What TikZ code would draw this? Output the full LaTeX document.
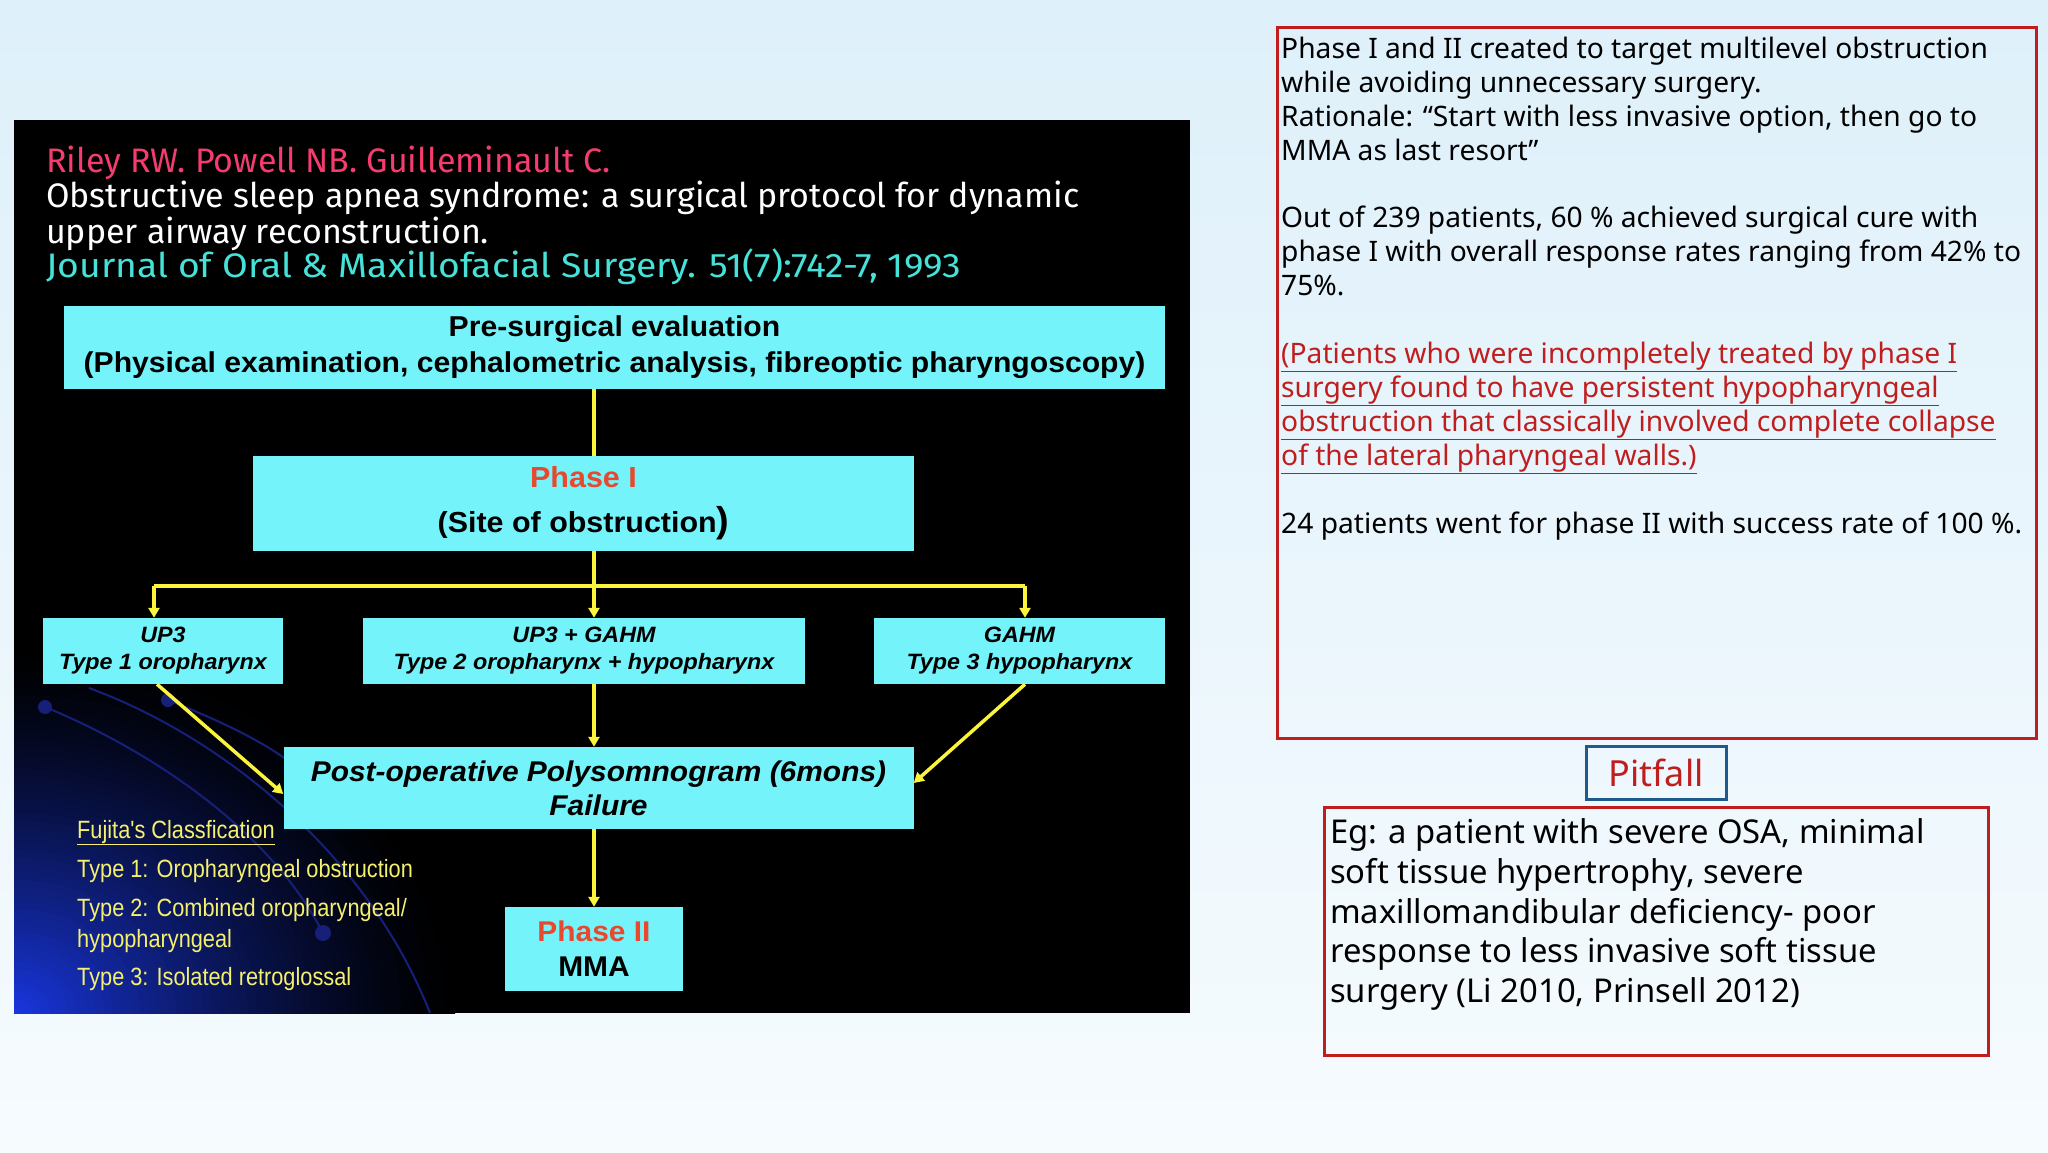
\documentclass[tikz,border=0pt]{standalone}
\usepackage{fontspec}
\setmainfont{Noto Sans}
\newfontfamily\panelsans[FakeStretch=1.05]{Liberation Sans}
\newfontfamily\fujsans[FakeStretch=0.87]{Liberation Sans}
\newfontfamily\titlesans{Fira Sans}
\newfontfamily\titlewide[FakeStretch=1.097]{Fira Sans}
\usetikzlibrary{arrows.meta}
\definecolor{bgtop}{RGB}{222,240,250}
\definecolor{bgbot}{RGB}{246,251,254}
\definecolor{boxcyan}{RGB}{116,244,250}
\definecolor{ylw}{RGB}{250,245,60}
\definecolor{phasered}{RGB}{232,72,46}
\definecolor{rileypink}{RGB}{245,60,110}
\definecolor{journalcyan}{RGB}{70,225,215}
\definecolor{fujy}{RGB}{245,240,110}
\definecolor{boxred}{RGB}{192,30,30}
\definecolor{pitblue}{RGB}{30,90,140}
\definecolor{glowblue}{RGB}{25,55,225}
\definecolor{arcblue}{RGB}{22,32,120}
\tikzset{
  cbox/.style={fill=boxcyan, draw=none, inner sep=0pt, align=center, text=black},
  yline/.style={draw=ylw, line width=3.5pt},
  yarrow/.style={draw=ylw, line width=3.5pt, -{Triangle[length=10pt,width=11pt]}},
  ttl/.style={anchor=base west, inner sep=0pt, font=\titlesans\fontsize{34}{36}\selectfont},
  fuj/.style={anchor=base west, inner sep=0pt, text=fujy, font=\fujsans\fontsize{25}{30}\selectfont},
  rtext/.style={anchor=base west, inner sep=0pt, font=\fontsize{28.2}{34}\selectfont},
  etext/.style={anchor=base west, inner sep=0pt, font=\fontsize{32.8}{39}\selectfont},
  deco/.style={draw=arcblue, line width=2pt},
  blob/.style={fill=arcblue},
}
\newcommand\redul[1]{\textcolor{boxred}{\underline{#1}}}
\begin{document}
\begin{tikzpicture}[x=1pt,y=-1pt]
% background
\shade[top color=bgtop, bottom color=bgbot] (0,0) rectangle (2048,1152);
\useasboundingbox (0,0) rectangle (2048,1152);
% black panel
\fill[black] (14,120) rectangle (1190,1013);
\begin{scope}
  \clip (14,120) rectangle (1190,1013);
  \foreach \i [evaluate=\i as \p using {100*(\i/50)^1.4}, evaluate=\i as \f using {1-\i/50}] in {1,...,50}
    \fill[glowblue!\p!black] (14,1013) ellipse ({450*\f} and {370*\f});
  \draw[deco] (45,707) .. controls (150,750) and (270,830) .. (323,933);
  \draw[deco] (89,688) .. controls (230,740) and (370,860) .. (430,1013);
  \draw[deco] (168,700) .. controls (230,725) and (270,745) .. (300,770);
  \fill[blob] (45,707) circle (7);
  \fill[blob] (168,700) circle (7);
  \fill[blob] (323,933) circle (8);
\end{scope}
% title
\node[ttl, text=rileypink] (riley) at (46,172) {Riley RW. Powell NB. Guilleminault C.};
\node[ttl, text=white] (t1) at (46,207) {Obstructive sleep apnea syndrome: a surgical protocol for dynamic};
\node[ttl, text=white] (t2) at (46,243) {upper airway reconstruction.};
\node[ttl, text=journalcyan, font=\titlewide\fontsize{34}{36}\selectfont] (t3) at (46,277) {Journal of Oral \& Maxillofacial Surgery. 51(7):742-7, 1993};
% boxes
\node[cbox, minimum width=1101pt, minimum height=83pt, font=\panelsans\bfseries\fontsize{28.7}{36}\selectfont] (pre) at (614.5,347.5)
  {Pre-surgical evaluation\\(Physical examination, cephalometric analysis, fibreoptic pharyngoscopy)};
\node[cbox, minimum width=661pt, minimum height=95pt, font=\panelsans\bfseries\fontsize{29}{45}\selectfont] (ph1) at (583.5,503.5)
  {\textcolor{phasered}{Phase I}\\(Site of obstruction{\fontsize{36}{45}\selectfont)}};
\node[cbox, minimum width=240pt, minimum height=66pt, font=\panelsans\bfseries\itshape\fontsize{22.2}{27}\selectfont] (up3) at (163,651)
  {UP3\\Type 1 oropharynx};
\node[cbox, minimum width=442pt, minimum height=66pt, font=\panelsans\bfseries\itshape\fontsize{22.2}{27}\selectfont] (mid) at (584,651)
  {UP3 + GAHM\\Type 2 oropharynx + hypopharynx};
\node[cbox, minimum width=291pt, minimum height=66pt, font=\panelsans\bfseries\itshape\fontsize{22.2}{27}\selectfont] (gahm) at (1019.5,651)
  {GAHM\\Type 3 hypopharynx};
\node[cbox, minimum width=630pt, minimum height=82pt, font=\panelsans\bfseries\itshape\fontsize{28.5}{34}\selectfont] (post) at (598.5,788)
  {Post-operative Polysomnogram (6mons)\\Failure};
\node[cbox, minimum width=178pt, minimum height=84pt, font=\panelsans\bfseries\fontsize{28.5}{35}\selectfont] (ph2) at (594,949)
  {\textcolor{phasered}{Phase II}\\MMA};
% connectors
\coordinate (spine) at (594,0);
\coordinate (barL) at (154,586);
\coordinate (barR) at (1025,586);
\draw[yline] (pre.south -| spine) -- (ph1.north -| spine);
\draw[yarrow] (ph1.south -| spine) -- (mid.north -| spine);
\draw[yline] (barL) -- (barR);
\draw[yarrow] (barL) -- (barL |- up3.north);
\draw[yarrow] (barR) -- (barR |- gahm.north);
\draw[yarrow] ([xshift=-6pt]up3.south) -- ([yshift=-6pt]post.west);
\draw[yarrow] (gahm.south -| barR) -- ([yshift=5pt]post.east);
\draw[yarrow] (mid.south -| spine) -- (post.north -| spine);
\draw[yarrow] (post.south -| spine) -- (ph2.north);
% Fujita
\node[fuj] (f0) at (77,838) {\underline{Fujita's Classfication}};
\node[fuj] (f1) at (77,877) {Type 1: Oropharyngeal obstruction};
\node[fuj] (f2) at (77,916) {Type 2: Combined oropharyngeal/};
\node[fuj] (f2b) at (77,947) {hypopharyngeal};
\node[fuj] (f3) at (77,985) {Type 3: Isolated retroglossal};
% right box
\draw[boxred, line width=3pt] (1277,27) rectangle (2036,738);
\node[rtext] (r1) at (1281,58) {Phase I and II created to target multilevel obstruction};
\node[rtext] (r2) at (1281,92) {while avoiding unnecessary surgery.};
\node[rtext] (r3) at (1281,126) {Rationale: “Start with less invasive option, then go to};
\node[rtext] (r4) at (1281,160) {MMA as last resort”};
\node[rtext] (r5) at (1281,227) {Out of 239 patients, 60 \% achieved surgical cure with};
\node[rtext] (r6) at (1281,261) {phase I with overall response rates ranging from 42\% to};
\node[rtext] (r7) at (1281,295) {75\%.};
\node[rtext] (r8) at (1281,363) {\redul{(Patients who were incompletely treated by phase I}};
\node[rtext] (r9) at (1281,397) {\redul{surgery found to have persistent hypopharyngeal}};
\node[rtext] (r10) at (1281,431) {\redul{obstruction that classically involved complete collapse}};
\node[rtext] (r11) at (1281,465) {\redul{of the lateral pharyngeal walls.)}};
\node[rtext] (r12) at (1281,533) {24 patients went for phase II with success rate of 100 \%.};
% pitfall
\node[draw=pitblue, line width=3pt, minimum width=140pt, minimum height=53pt, inner sep=0pt, text=boxred, font=\fontsize{36}{40}\selectfont] (pit) at (1656,773) {Pitfall};
\draw[boxred, line width=3pt] (1324,807) rectangle (1988,1055);
\node[etext] (e1) at (1330,843) {Eg: a patient with severe OSA, minimal};
\node[etext] (e2) at (1330,883) {soft tissue hypertrophy, severe};
\node[etext] (e3) at (1330,923) {maxillomandibular deficiency- poor};
\node[etext] (e4) at (1330,962) {response to less invasive soft tissue};
\node[etext] (e5) at (1330,1002) {surgery (Li 2010, Prinsell 2012)};
\end{tikzpicture}
\end{document}
